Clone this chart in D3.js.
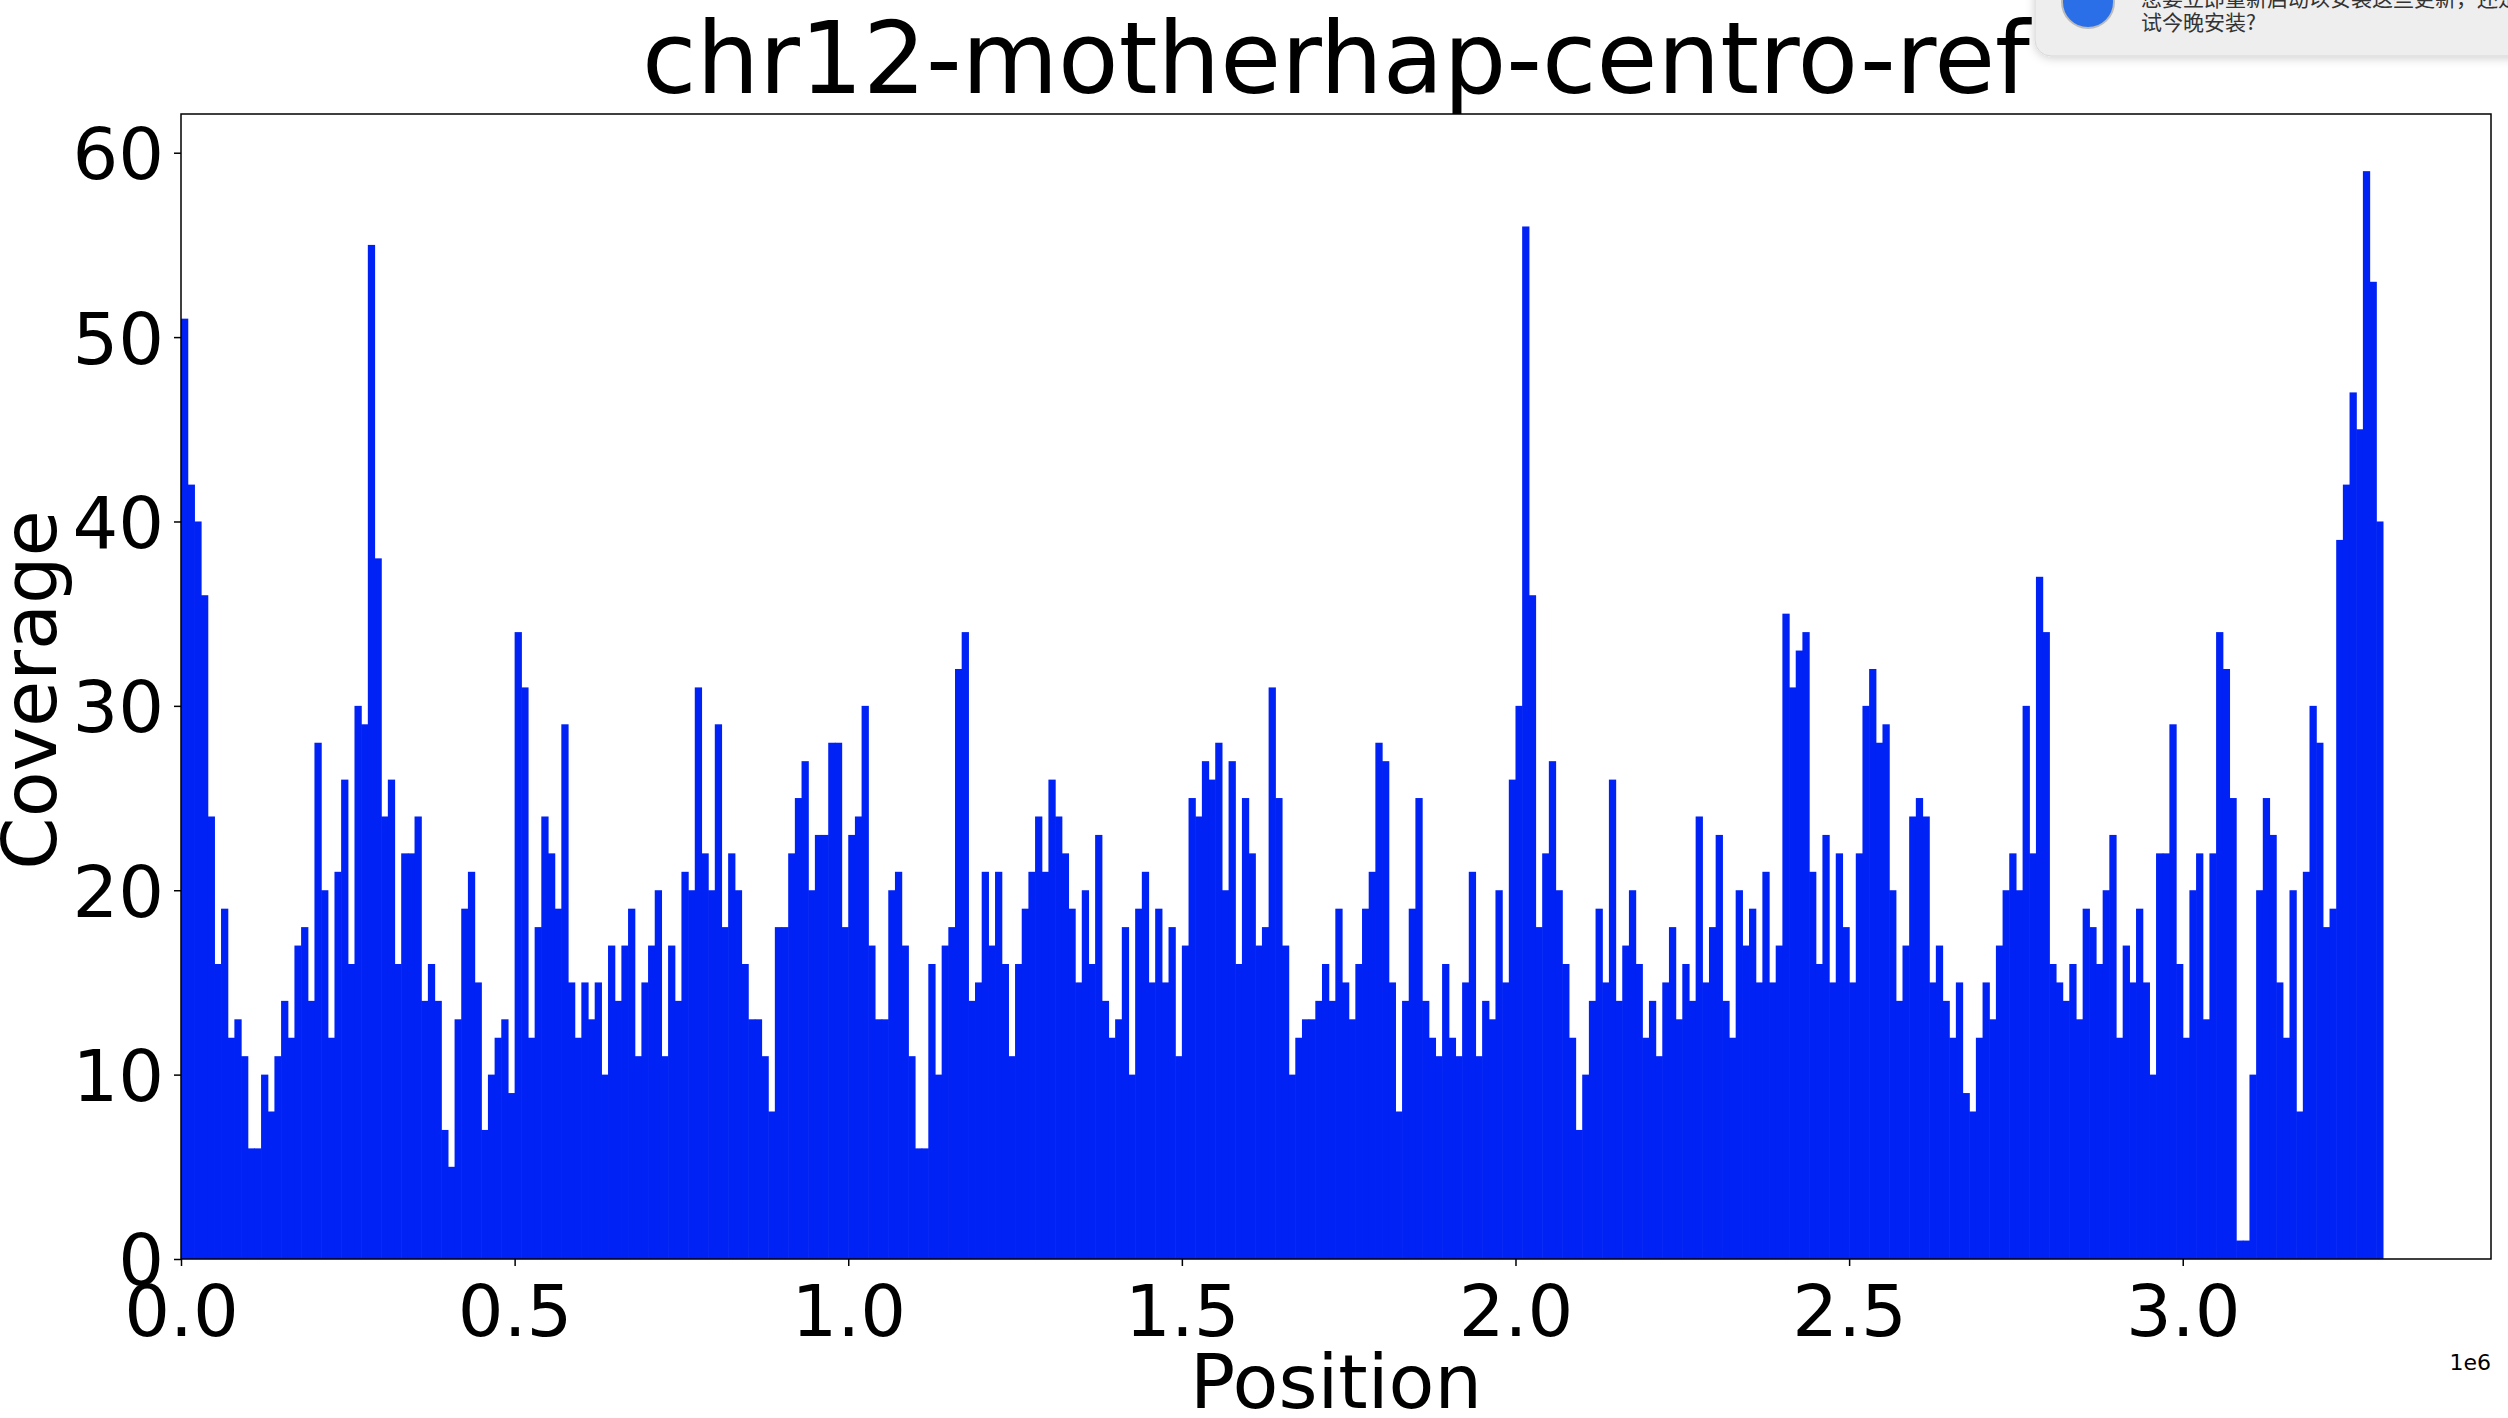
<!DOCTYPE html>
<html><head><meta charset="utf-8">
<script src="https://cdn.jsdelivr.net/npm/d3@7"></script>
<style>body{margin:0;background:#fff}svg{display:block}</style>
</head><body>
<svg id="c" width="2508" height="1418"></svg>
<script>
const title = "chr12-motherhap-centro-ref";
const xLabel = "Position";
const yLabel = "Coverage";
const binSize = 10000;
const xTicks = [0, 0.5e6, 1.0e6, 1.5e6, 2.0e6, 2.5e6, 3.0e6];
const yTicks = [0, 10, 20, 30, 40, 50, 60];
const coverage = [
51,42,40,36,24,16,19,12,13,11,
6,6,10,8,11,14,12,17,18,14,
28,20,12,21,26,16,30,29,55,38,
24,26,16,22,22,24,14,16,14,7,
5,13,19,21,15,7,10,12,13,9,
34,31,12,18,24,22,19,29,15,12,
15,13,15,10,17,14,17,19,11,15,
17,20,11,17,14,21,20,31,22,20,
29,18,22,20,16,13,13,11,8,18,
18,22,25,27,20,23,23,28,28,18,
23,24,30,17,13,13,20,21,17,11,
6,6,16,10,17,18,32,34,14,15,
21,17,21,16,11,16,19,21,24,21,
26,24,22,19,15,20,16,23,14,12,
13,18,10,19,21,15,19,15,18,11,
17,25,24,27,26,28,20,27,16,25,
22,17,18,31,25,17,10,12,13,13,
14,16,14,19,15,13,16,19,21,28,
27,15,8,14,19,25,14,12,11,16,
12,11,15,21,11,14,13,20,15,26,
30,56,36,18,22,27,20,16,12,7,
10,14,19,15,26,14,17,20,16,12,
14,11,15,18,13,16,14,24,15,18,
23,14,12,20,17,19,15,21,15,17,
35,31,33,34,21,16,23,15,22,18,
15,22,30,32,28,29,20,14,17,24,
25,24,15,17,14,12,15,9,8,12,
15,13,17,20,22,20,30,22,37,34,
16,15,14,16,13,19,18,16,20,23,
12,17,15,19,15,10,22,22,29,16,
12,20,22,13,22,34,32,25,1,1,
10,20,25,23,15,12,20,8,21,30,
28,18,19,39,42,47,45,59,53,40
];
const data = coverage.map((v,i)=>({pos:i*binSize, cov:v}));

const svg = d3.select("#c");
const L=181, R=2491, T=114, B=1259;
const x = d3.scaleLinear().domain([0, 3.462e6]).range([L, R]);
const y = d3.scaleLinear().domain([0, 62.1]).range([B, T]);
const font = "DejaVu Sans, sans-serif";

svg.append("g").selectAll("rect").data(data).join("rect")
  .attr("x", d=>x(d.pos)).attr("width", d=>x(d.pos+binSize)-x(d.pos)+0.6)
  .attr("y", d=>y(d.cov)).attr("height", d=>y(0)-y(d.cov))
  .attr("fill", "#0022f5");

const xa = svg.append("g").attr("transform",`translate(0,${B})`)
  .call(d3.axisBottom(x).tickValues(xTicks).tickFormat(d=>(d/1e6).toFixed(1)).tickSize(7).tickPadding(4));
const ya = svg.append("g").attr("transform",`translate(${L},0)`)
  .call(d3.axisLeft(y).tickValues(yTicks).tickFormat(d3.format("d")).tickSize(7).tickPadding(10));
[xa,ya].forEach(a=>{a.select(".domain").remove();
  a.selectAll("text").attr("font-family",font).attr("font-size",72).attr("fill","#000");
  a.selectAll("line").attr("stroke","#000").attr("stroke-width",1.5);});
xa.selectAll("text").attr("dy","0.92em");
ya.selectAll("text").attr("dy","0.36em");

svg.append("rect").attr("x",L).attr("y",T).attr("width",R-L).attr("height",B-T)
  .attr("fill","none").attr("stroke","#000").attr("stroke-width",1.5);

svg.append("text").attr("x",1336).attr("y",93).attr("text-anchor","middle")
  .attr("font-family",font).attr("font-size",99).text(title);
svg.append("text").attr("x",1336).attr("y",1408).attr("text-anchor","middle")
  .attr("font-family",font).attr("font-size",75).text(xLabel);
svg.append("text").attr("transform","translate(56,690) rotate(-90)").attr("text-anchor","middle")
  .attr("font-family",font).attr("font-size",75).text(yLabel);
svg.append("text").attr("x",2491).attr("y",1370).attr("text-anchor","end")
  .attr("font-family",font).attr("font-size",22).text("1e6");

// notification overlay
const defs = svg.append("defs");
const f = defs.append("filter").attr("id","sh").attr("x","-10%").attr("y","-50%").attr("width","120%").attr("height","200%");
f.append("feDropShadow").attr("dx",0).attr("dy",2).attr("stdDeviation",5).attr("flood-opacity",0.18);
const n = svg.append("g");
n.append("rect").attr("x",2035).attr("y",-30).attr("width",520).attr("height",86).attr("rx",16)
  .attr("fill","#eeeeee").attr("stroke","#d8d8d8").attr("filter","url(#sh)");
n.append("circle").attr("cx",2088).attr("cy",2).attr("r",26).attr("fill","#2a6fe8").attr("stroke","#bbb").attr("stroke-width",2);
n.append("text").attr("x",2141).attr("y",6).attr("font-family","Noto Sans CJK SC").attr("font-size",21).attr("fill","#333")
  .text("您要立即重新启动以安装这些更新，还是");
n.append("text").attr("x",2141).attr("y",30).attr("font-family","Noto Sans CJK SC").attr("font-size",21).attr("fill","#333")
  .text("试今晚安装?");
</script>
</body></html>
